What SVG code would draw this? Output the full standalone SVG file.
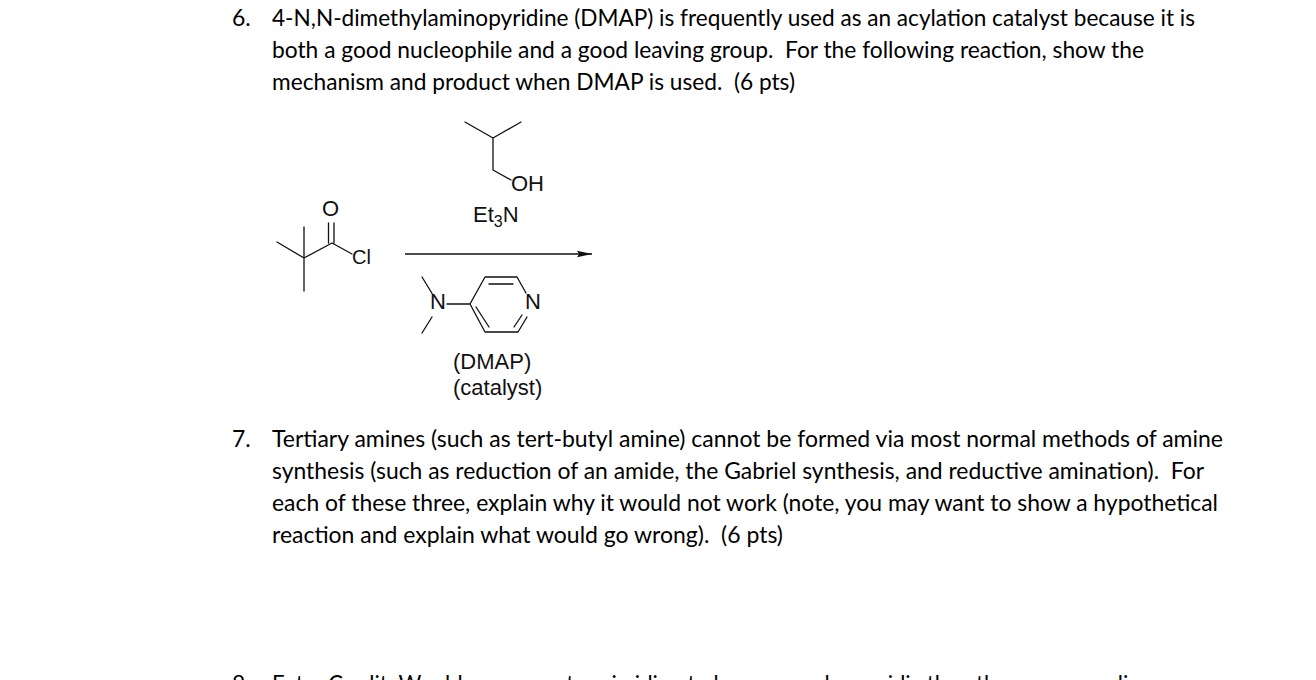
<svg xmlns="http://www.w3.org/2000/svg" width="1316" height="680" viewBox="0 0 1316 680">
<style>
.t{font-family:"Lato","Open Sans",sans-serif;font-size:23px;fill:#000;white-space:pre}
.c{font-family:"Liberation Sans",Arial,sans-serif;font-size:22px;fill:#111}
.b{fill:none;stroke:#111;stroke-width:1.3;stroke-linecap:round;stroke-linejoin:round}
</style>
<defs><marker id="ah" markerUnits="userSpaceOnUse" markerWidth="16" markerHeight="8" refX="15" refY="4" orient="auto"><path d="M0 0.8L15 4L0 7.2L2 4Z" fill="#111"/></marker></defs>
<rect width="1316" height="680" fill="#fff"/>
<g id="question-6">
<text class="t" x="232" y="26">6.</text>
<text class="t" x="272" y="26" textLength="923" lengthAdjust="spacingAndGlyphs">4-N,N-dimethylaminopyridine (DMAP) is frequently used as an acylation catalyst because it is</text>
<text class="t" x="272" y="58" textLength="872" lengthAdjust="spacingAndGlyphs">both a good nucleophile and a good leaving group.  For the following reaction, show the</text>
<text class="t" x="272" y="90" textLength="523" lengthAdjust="spacingAndGlyphs">mechanism and product when DMAP is used.  (6 pts)</text>
</g>
<g id="acid-chloride">
<path class="b" d="M277 242L304 258L332 243L352 254M304 227V291M328.500 223V243M334 223V243"/>
<text class="c" x="322" y="216">O</text>
<text class="c" x="352" y="264" style="font-size:20px">Cl</text>
</g>
<g id="isobutanol">
<path class="b" d="M465 122L493 138L521 122M493 138V170L511 180"/>
<text class="c" x="511" y="191">OH</text>
</g>
<g id="triethylamine">
<text class="c" x="473" y="222">Et<tspan dy="5" style="font-size:16px">3</tspan><tspan dy="-5">N</tspan></text>
</g>
<g id="connectors">
<path d="M405 254H592" fill="none" stroke="#111" stroke-width="1.3" marker-end="url(#ah)"/>
</g>
<g id="dmap">
<path class="b" d="M422 277L433 295M432 317L422 333M447 304H470L485 277H517L526 293M470 304L485 332H518L527 317M489 284H513M476 307L489 327M514 327L522 315"/>
<text class="c" x="430" y="309">N</text>
<text class="c" x="525" y="309">N</text>
<text class="c" x="453" y="369">(DMAP)</text>
<text class="c" x="453" y="395">(catalyst)</text>
</g>
<g id="question-7">
<text class="t" x="232" y="447">7.</text>
<text class="t" x="272" y="447" textLength="951" lengthAdjust="spacingAndGlyphs">Tertiary amines (such as tert-butyl amine) cannot be formed via most normal methods of amine</text>
<text class="t" x="272" y="479" textLength="932" lengthAdjust="spacingAndGlyphs">synthesis (such as reduction of an amide, the Gabriel synthesis, and reductive amination).  For</text>
<text class="t" x="272" y="511" textLength="946" lengthAdjust="spacingAndGlyphs">each of these three, explain why it would not work (note, you may want to show a hypothetical</text>
<text class="t" x="272" y="543" textLength="511" lengthAdjust="spacingAndGlyphs">reaction and explain what would go wrong).  (6 pts)</text>
</g>
<g id="question-8">
<text class="t" x="232" y="692">8.</text>
<text class="t" x="272" y="692" textLength="880" lengthAdjust="spacingAndGlyphs">Extra Credit: Would you expect pyrimidine to be more or less acidic than the corresponding</text>
</g>
</svg>
